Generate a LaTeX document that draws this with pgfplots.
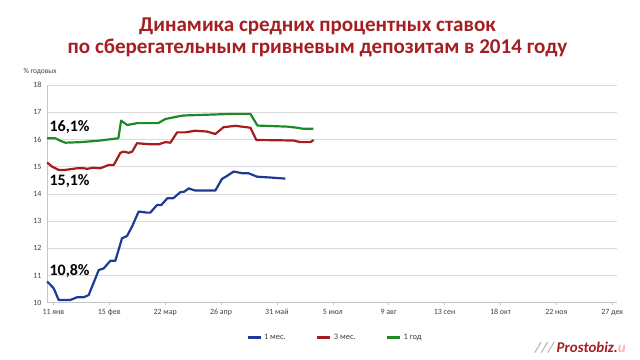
\documentclass[border=0pt]{standalone}
\usepackage{fontspec}
\setmainfont{Carlito}
\usepackage{pgfplots}
\pgfplotsset{compat=1.18}
\definecolor{titlered}{HTML}{A41E22}
\definecolor{cblue}{HTML}{1F3A96}
\definecolor{cred}{HTML}{A61C1C}
\definecolor{cgreen}{HTML}{1E8A26}
\definecolor{txt}{HTML}{404040}

\pgfplotstableread{
d v
-3.9 10.78
0.2 10.53
3.3 10.10
10.6 10.10
14.8 10.20
19.0 10.20
22.1 10.28
28.4 11.20
31.5 11.26
35.7 11.54
38.8 11.54
43.0 12.37
46.1 12.45
49.3 12.80
53.4 13.35
58.7 13.31
60.7 13.31
64.9 13.59
67.6 13.59
71.4 13.84
75.1 13.84
79.5 14.06
82.0 14.08
84.7 14.20
88.9 14.12
101.4 14.12
105.6 14.55
108.8 14.66
112.9 14.82
118.2 14.76
122.1 14.76
127.6 14.63
135.9 14.60
145.3 14.56
}\mone

\pgfplotstableread{
d v
-3.9 15.15
-0.8 15.00
3.3 14.88
7.5 14.88
14.8 14.94
19.0 14.94
21.1 14.92
25.2 14.96
29.4 14.94
34.6 15.06
37.8 15.06
42.0 15.51
44.0 15.55
47.2 15.51
49.3 15.55
52.4 15.86
60.7 15.82
65.9 15.82
70.1 15.90
73.3 15.88
77.5 16.26
82.7 16.26
88.9 16.32
96.2 16.29
101.4 16.20
106.6 16.45
114.0 16.50
123.4 16.43
127.1 15.98
150.5 15.96
154.7 15.90
161.0 15.90
163.0 15.98
}\mthree

\pgfplotstableread{
d v
-3.9 16.04
1.3 16.04
4.4 15.95
7.5 15.88
16.9 15.90
29.4 15.96
38.8 16.03
40.7 16.04
42.4 16.69
46.3 16.53
52.6 16.60
65.7 16.60
70.1 16.75
77.6 16.84
81.4 16.88
92.0 16.90
112.7 16.94
123.4 16.94
127.8 16.51
146.5 16.47
152.8 16.43
156.5 16.39
162.8 16.39
}\year

\newlength\tw
\settowidth\tw{\bfseries\fontsize{20}{24}\selectfont Динамика средних процентных ставок}
\pgfmathsetmacro\tfs{20*358/\tw}

\begin{document}
\begin{tikzpicture}
\path[use as bounding box] (0,0) rectangle (640bp,360bp);
\node[anchor=base, text=titlered, font=\bfseries\fontsize{\tfs}{22}\selectfont, inner sep=0pt] at (317.5bp,328bp) {Динамика средних процентных ставок};
\node[anchor=base, text=titlered, font=\bfseries\fontsize{\tfs}{22}\selectfont, inner sep=0pt] at (317.5bp,306.5bp) {по сберегательным гривневым депозитам в 2014 году};
\node[anchor=west, text=txt, font=\fontsize{7.5}{8}\selectfont] at (20bp,288bp) {\% годовых};
\begin{axis}[
  at={(47bp,57.3bp)}, anchor=south west,
  scale only axis, width=570bp, height=217.7bp,
  xmin=-4, xmax=353, ymin=10, ymax=18,
  axis x line*=bottom, axis y line*=left,
  axis line style={gray!45, line width=0.6pt},
  xtick={0,35,...,350},
  xticklabels={11 янв, 15 фев, 22 мар, 26 апр, 31 май, 5 июл, 9 авг, 13 сен, 18 окт, 22 ноя, 27 дек},
  ytick={10,11,...,18},
  ymajorgrids, grid style={gray!28, line width=0.6pt},
  tick style={gray!45, line width=0.5pt},
  major tick length=2bp,
  xtick pos=bottom, ytick pos=left,
  tick align=outside,
  ytick style={draw=none},
  tick label style={text=txt, font=\fontsize{8}{9}\selectfont},
  /pgf/number format/assume math mode=true,
  xticklabel style={yshift=-1bp},
  clip=false,
  legend columns=3,
  legend style={at={(axis description cs:0.505,-0.158)}, anchor=center, draw=none, fill=none,
    font=\fontsize{8.5}{10}\selectfont, text=txt,
    /tikz/every even column/.append style={column sep=28bp}},
  legend image code/.code={\draw[line width=3pt,#1] (0bp,0bp) -- (13bp,0bp);},
]
\addplot[cblue, line width=2.2pt, line join=round] table[x=d,y=v] {\mone};
\addlegendentry{1 мес.}
\addplot[cred, line width=2.2pt, line join=round] table[x=d,y=v] {\mthree};
\addlegendentry{3 мес.}
\addplot[cgreen, line width=2.2pt, line join=round] table[x=d,y=v] {\year};
\addlegendentry{1 год}
\node[anchor=west, font=\bfseries\fontsize{16}{18}\selectfont, inner sep=0pt] at (axis cs:-2.5,16.46) {16,1\%};
\node[anchor=west, font=\bfseries\fontsize{16}{18}\selectfont, inner sep=0pt] at (axis cs:-2.5,14.47) {15,1\%};
\node[anchor=west, font=\bfseries\fontsize{16}{18}\selectfont, inner sep=0pt] at (axis cs:-2.5,11.17) {10,8\%};
\end{axis}
\node[anchor=east, inner sep=0pt, font=\bfseries\itshape\fontsize{15}{17}\selectfont] at (626bp,12bp)
  {\textcolor{gray!60}{///}\,\textcolor{titlered}{Prostobiz.}\textcolor{red!30}{u}};
\end{tikzpicture}
\end{document}
